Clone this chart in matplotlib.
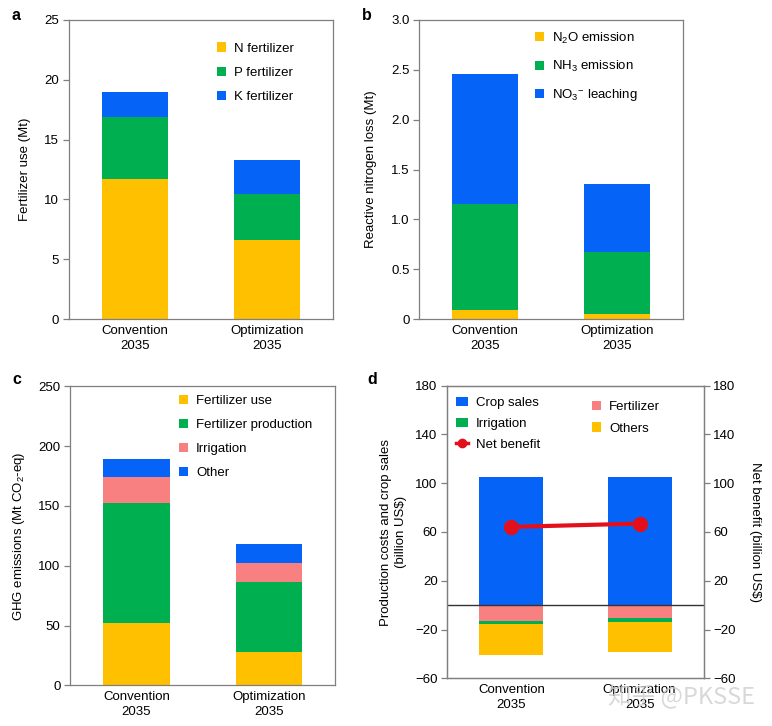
import matplotlib as mpl
import matplotlib.pyplot as plt
from matplotlib.patches import Patch
from matplotlib.lines import Line2D

mpl.rcParams["font.family"] = ["Liberation Sans", "DejaVu Sans"]
mpl.rcParams["mathtext.fontset"] = "custom"
mpl.rcParams["mathtext.rm"] = "Liberation Sans"
mpl.rcParams["mathtext.it"] = "Liberation Sans:italic"
mpl.rcParams["font.size"] = 9.5

# ---------------------------------------------------------------------------
# data
# ---------------------------------------------------------------------------
scenarios = ["Convention\n2035", "Optimization\n2035"]

# a: fertilizer use (Mt)
n_fert = [11.7, 6.6]
p_fert = [5.2, 3.85]
k_fert = [2.1, 2.85]

# b: reactive nitrogen loss (Mt)
n2o = [0.09, 0.05]
nh3 = [1.06, 0.62]
no3 = [1.31, 0.68]

# c: GHG emissions (Mt CO2-eq)
ghg_use = [52.0, 28.0]
ghg_prod = [100.5, 58.5]
ghg_irr = [21.3, 15.6]
ghg_other = [15.6, 15.9]

# d: costs and sales (billion US$)
crop_sales = [105.0, 105.0]
cost_fert = [12.7, 10.5]
cost_irr = [2.7, 3.3]
cost_others = [25.4, 24.3]
net_benefit = [64.2, 66.9]

YELLOW = "#ffc000"
GREEN = "#00b050"
BLUE = "#0563f7"
PINK = "#f88080"
RED = "#e3101c"
SPINE = "#7f7f7f"

W, H = 772, 726
fig = plt.figure(figsize=(W / 100, H / 100), dpi=100)


def px_axes(x0, y0, x1, y1):
    return fig.add_axes([x0 / W, 1 - y1 / H, (x1 - x0) / W, (y1 - y0) / H])


def style(ax):
    for s in ax.spines.values():
        s.set_color(SPINE)
        s.set_linewidth(0.9)
    ax.tick_params(axis="y", direction="out", length=4, width=0.9, color=SPINE, pad=3)
    ax.tick_params(axis="x", length=0, pad=4)
    ax.set_xlim(-0.5, 1.5)
    ax.set_xticks([0, 1])
    ax.set_xticklabels(scenarios, linespacing=1.4)


def stack(ax, series, colors):
    bottom = [0.0, 0.0]
    for vals, c in zip(series, colors):
        ax.bar([0, 1], vals, 0.5, bottom=bottom, color=c, linewidth=0)
        bottom = [b + v for b, v in zip(bottom, vals)]


def legend(ax, labels, colors, anchor, spacing=0.85):
    handles = [Patch(facecolor=c, edgecolor="none") for c in colors]
    ax.legend(handles, labels, loc="upper left", bbox_to_anchor=anchor,
              frameon=False, handlelength=0.7, handleheight=0.7,
              handletextpad=0.6, labelspacing=spacing, borderaxespad=0,
              borderpad=0)


# ---- a ----
ax = px_axes(69, 20, 333, 319)
style(ax)
stack(ax, [n_fert, p_fert, k_fert], [YELLOW, GREEN, BLUE])
ax.set_ylim(0, 25)
ax.set_yticks([0, 5, 10, 15, 20, 25])
ax.set_ylabel("Fertilizer use (Mt)", labelpad=10)
legend(ax, ["N fertilizer", "P fertilizer", "K fertilizer"],
       [YELLOW, GREEN, BLUE], (0.56, 0.925), spacing=0.9)
fig.text(12 / W, 1 - 16 / H, "a", fontsize=11.5, fontweight="bold", va="center")

# ---- b ----
ax = px_axes(419.3, 20, 682.7, 319)
style(ax)
stack(ax, [n2o, nh3, no3], [YELLOW, GREEN, BLUE])
ax.set_ylim(0, 3.0)
ax.set_yticks([0, 0.5, 1.0, 1.5, 2.0, 2.5, 3.0])
ax.set_yticklabels(["0", "0.5", "1.0", "1.5", "2.0", "2.5", "3.0"])
ax.set_ylabel("Reactive nitrogen loss (Mt)", labelpad=10)
legend(ax, ["N$_2$O emission", "NH$_3$ emission", "NO$_3$$^{-}$ leaching"],
       [YELLOW, GREEN, BLUE], (0.44, 0.965), spacing=1.0)
fig.text(362 / W, 1 - 16 / H, "b", fontsize=11.5, fontweight="bold", va="center")

# ---- c ----
ax = px_axes(70.3, 386.3, 335, 685.3)
style(ax)
stack(ax, [ghg_use, ghg_prod, ghg_irr, ghg_other], [YELLOW, GREEN, PINK, BLUE])
ax.set_ylim(0, 250)
ax.set_yticks([0, 50, 100, 150, 200, 250])
ax.set_ylabel("GHG emissions (Mt CO$_2$-eq)", labelpad=8)
legend(ax, ["Fertilizer use", "Fertilizer production", "Irrigation", "Other"],
       [YELLOW, GREEN, PINK, BLUE], (0.41, 0.972), spacing=0.9)
fig.text(12 / W, 1 - 379 / H, "c", fontsize=11.5, fontweight="bold", va="center")

# ---- d ----
ax = px_axes(447.3, 385.7, 703.7, 678.3)
style(ax)
ax.bar([0, 1], crop_sales, 0.5, color=BLUE, linewidth=0)
neg_f = [-v for v in cost_fert]
neg_i = [-v for v in cost_irr]
neg_o = [-v for v in cost_others]
ax.bar([0, 1], neg_f, 0.5, color=PINK, linewidth=0)
ax.bar([0, 1], neg_i, 0.5, bottom=neg_f, color=GREEN, linewidth=0)
ax.bar([0, 1], neg_o, 0.5, bottom=[a + b for a, b in zip(neg_f, neg_i)],
       color=YELLOW, linewidth=0)
ax.axhline(0, color="#333333", linewidth=1.0)
ax.set_ylim(-60, 180)
ticks_d = [-60, -20, 20, 60, 100, 140, 180]
tick_lbl_d = ["\u221260", "\u221220", "20", "60", "100", "140", "180"]
ax.set_yticks(ticks_d)
ax.set_yticklabels(tick_lbl_d)
ax.set_ylabel("Production costs and crop sales\n(billion US$)", labelpad=6,
              linespacing=1.3)
ax2 = ax.twinx()
ax2.set_ylim(-60, 180)
ax2.set_yticks(ticks_d)
ax2.set_yticklabels(tick_lbl_d)
for s in ax2.spines.values():
    s.set_color(SPINE)
    s.set_linewidth(0.9)
ax2.tick_params(axis="y", direction="out", length=4, width=0.9, color=SPINE, pad=3)
ax2.plot([0, 1], net_benefit, color=RED, linewidth=3, marker="o",
         markersize=10, zorder=5)
ax2.set_ylabel("Net benefit (billion US$)", rotation=270, labelpad=18)

h1 = [Patch(facecolor=BLUE, edgecolor="none"),
      Patch(facecolor=GREEN, edgecolor="none"),
      Line2D([], [], color=RED, linewidth=2.5, marker="o", markersize=6)]
leg1 = ax2.legend(h1, ["Crop sales", "Irrigation", "Net benefit"], loc="upper left",
                  bbox_to_anchor=(0.035, 0.962), frameon=False, handlelength=0.9,
                  handleheight=0.7, handletextpad=0.6, labelspacing=0.65,
                  borderaxespad=0, borderpad=0)
ax2.add_artist(leg1)
h2 = [Patch(facecolor=PINK, edgecolor="none"),
      Patch(facecolor=YELLOW, edgecolor="none")]
ax2.legend(h2, ["Fertilizer", "Others"], loc="upper left",
           bbox_to_anchor=(0.564, 0.948), frameon=False, handlelength=0.7,
           handleheight=0.7, handletextpad=0.6, labelspacing=0.7,
           borderaxespad=0, borderpad=0)
fig.text(367 / W, 1 - 379 / H, "d", fontsize=11.5, fontweight="bold", va="center")

# watermark
fig.text(681 / W, 1 - 696 / H, "\u77e5\u4e4e @PKSSE", fontsize=17, ha="center",
         va="center", color="#cfcfcf", alpha=0.8,
         family=["Noto Sans CJK SC", "DejaVu Sans"])

fig.savefig("out.png", dpi=100)
